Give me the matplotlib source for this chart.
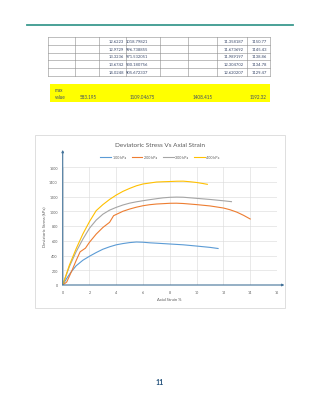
import matplotlib
matplotlib.use("Agg")
import matplotlib.pyplot as plt
from matplotlib.patches import Rectangle

plt.rcParams['font.family'] = ['Lato', 'DejaVu Sans']

# --- table values ---
strain_a = ["12.6223", "12.9729", "13.3236", "13.6742", "14.0248"]
stress_a = ["1018.79821", "996.738855", "971.532051", "930.180756", "905.672337"]
strain_b = ["11.358187", "11.673692", "11.989197", "12.304702", "12.620207"]
stress_b = ["1150.77", "1145.43", "1138.86", "1134.78", "1129.47"]
max_vals = ["583.195", "1109.04675", "1408.415", "1192.32"]

# --- curve values (axial strain %, deviatoric stress kPa) ---
labels = ["100 kPa", "200 kPa", "300 kPa", "400 kPa"]
colors = ["#5B9BD5", "#ED7D31", "#A5A5A5", "#FFC000"]

s100 = [0, 0.3, 0.6, 1.0, 1.5, 2.0, 2.5, 3.0, 3.5, 4.0, 4.5, 5.0, 5.5, 6.0,
        6.5, 7.0, 8.0, 9.0, 10.0, 11.0, 11.6]
d100 = [0, 90, 170, 260, 335, 390, 440, 485, 518, 545, 562, 575, 583, 580,
        572, 567, 556, 545, 528, 510, 495]

s200 = [0, 0.3, 0.7, 1.0, 1.3, 1.7, 2.0, 2.5, 3.0, 3.5, 3.8, 4.5, 5.0, 5.5,
        6.0, 6.5, 7.0, 8.0, 8.5, 9.0, 10.0, 11.0, 12.0, 12.5, 13.0, 13.5, 14.0]
d200 = [0, 40, 200, 330, 450, 500, 580, 690, 780, 850, 940, 1000, 1030, 1055,
        1075, 1089, 1098, 1108, 1109, 1105, 1090, 1072, 1044, 1020, 988, 945, 895]

s300 = [0, 0.5, 1.0, 1.5, 2.0, 2.5, 3.0, 3.5, 4.0, 4.5, 5.0, 5.5, 6.0, 6.5,
        7.0, 7.5, 8.0, 8.5, 9.0, 10.0, 11.0, 12.0, 12.6]
d300 = [0, 250, 450, 620, 770, 880, 960, 1015, 1053, 1085, 1110, 1128, 1143,
        1157, 1170, 1182, 1189, 1192, 1190, 1175, 1160, 1142, 1130]

s400 = [0, 0.5, 1.0, 1.5, 2.0, 2.5, 3.0, 3.5, 4.0, 4.5, 5.0, 5.5, 6.0, 6.5,
        7.0, 7.5, 8.0, 8.5, 9.0, 9.5, 10.0, 10.5, 10.8]
d400 = [0, 270, 490, 690, 860, 1008, 1090, 1160, 1220, 1270, 1310, 1345, 1370,
        1383, 1396, 1400, 1403, 1407, 1408, 1400, 1390, 1375, 1365]

series = [(s100, d100), (s200, d200), (s300, d300), (s400, d400)]

W, H = 320, 414
fig = plt.figure(figsize=(W / 100, H / 100), dpi=100)
fig.patch.set_facecolor("white")

# page layer in pixel coordinates
page = fig.add_axes([0, 0, 1, 1])
page.set_xlim(0, W)
page.set_ylim(H, 0)
page.axis("off")

# header rule
page.plot([27, 293], [26, 26], color="#3C9A8F", lw=1.3)

# table grid
col_edges = [48, 75, 99, 126, 160, 188, 217, 247, 270]
row_top, row_h = 38, 7.8
nrows = len(strain_a)
for i in range(nrows + 1):
    y = row_top + i * row_h
    page.plot([col_edges[0], col_edges[-1]], [y, y], color="#8C8C8C", lw=0.4)
for x in col_edges:
    page.plot([x, x], [row_top, row_top + nrows * row_h], color="#8C8C8C", lw=0.4)

tc = "#3B4A6B"
for i in range(nrows):
    yc = row_top + (i + 0.5) * row_h
    page.text(124, yc, strain_a[i], ha="right", va="center", fontsize=3, color=tc)
    page.text(148, yc, stress_a[i], ha="right", va="center", fontsize=3, color=tc)
    page.text(244, yc, strain_b[i], ha="right", va="center", fontsize=3, color=tc)
    page.text(267, yc, stress_b[i], ha="right", va="center", fontsize=3, color=tc)

# max value band
page.add_patch(Rectangle((50, 85), 220, 18, facecolor="#FFFF00", edgecolor="none"))
mc = "#3B4A6B"
page.text(55, 90, "max", ha="left", va="center", fontsize=3.3, color=mc)
page.text(55, 97.5, "value", ha="left", va="center", fontsize=3.3, color=mc)
page.text(80, 97.5, max_vals[0], ha="left", va="center", fontsize=3.3, color=mc)
page.text(130, 97.5, max_vals[1], ha="left", va="center", fontsize=3.3, color=mc)
page.text(193, 97.5, max_vals[2], ha="left", va="center", fontsize=3.3, color=mc)
page.text(267, 97.5, max_vals[3], ha="right", va="center", fontsize=3.3, color=mc)

# chart frame
page.add_patch(Rectangle((35, 136), 250, 173, facecolor="white",
                         edgecolor="#D9D9D9", lw=0.6))
page.text(160, 146, "Deviatoric Stress Vs Axial Strain", ha="center",
          va="center", fontsize=4.6, color="#595959")
page.text(44, 227, "Deviatoric Stress (kPa)", ha="center", va="center",
          rotation=90, fontsize=3, color="#595959")
page.text(169, 300, "Axial Strain %", ha="center", va="center",
          fontsize=3, color="#595959")

# page number
page.text(160, 383, "11", ha="center", va="center", fontsize=5,
          fontweight="bold", color="#1F4E79")

# chart axes
x0, x1, y0, y1 = 62.7, 277, 286, 168
ax = fig.add_axes([x0 / W, 1 - y0 / H, (x1 - x0) / W, (y0 - y1) / H])
ax.set_facecolor("none")
for (s, d), c, lab in zip(series, colors, labels):
    ax.plot(s, d, color=c, lw=0.8, label=lab)

ax.set_xlim(0, 16)
ax.set_ylim(0, 1600)
ax.set_xticks(range(0, 17, 2))
ax.set_yticks(range(0, 1601, 200))
ax.grid(True, color="#D9D9D9", lw=0.4)
ax.set_axisbelow(True)
for sp in ax.spines.values():
    sp.set_visible(False)
ax.tick_params(length=0, labelsize=2.6, labelcolor="#595959", pad=3.5)

# axis lines with arrow heads
axis_col = "#44739A"
ax.annotate("", xy=(1.0345, 0), xytext=(0, 0), xycoords="axes fraction",
            arrowprops=dict(arrowstyle="-|>", color=axis_col, lw=0.8,
                            mutation_scale=3, shrinkA=0, shrinkB=0),
            annotation_clip=False)
ax.annotate("", xy=(0, 1.145), xytext=(0, 0), xycoords="axes fraction",
            arrowprops=dict(arrowstyle="-|>", color=axis_col, lw=0.8,
                            mutation_scale=3, shrinkA=0, shrinkB=0),
            annotation_clip=False)

fig.legend(loc="center", bbox_to_anchor=(160 / W, 1 - 158 / H), ncol=4,
           frameon=False, fontsize=2.6, handlelength=3, handletextpad=0.4,
           columnspacing=1.6, labelcolor="#595959")

fig.savefig("out.png", dpi=100)
